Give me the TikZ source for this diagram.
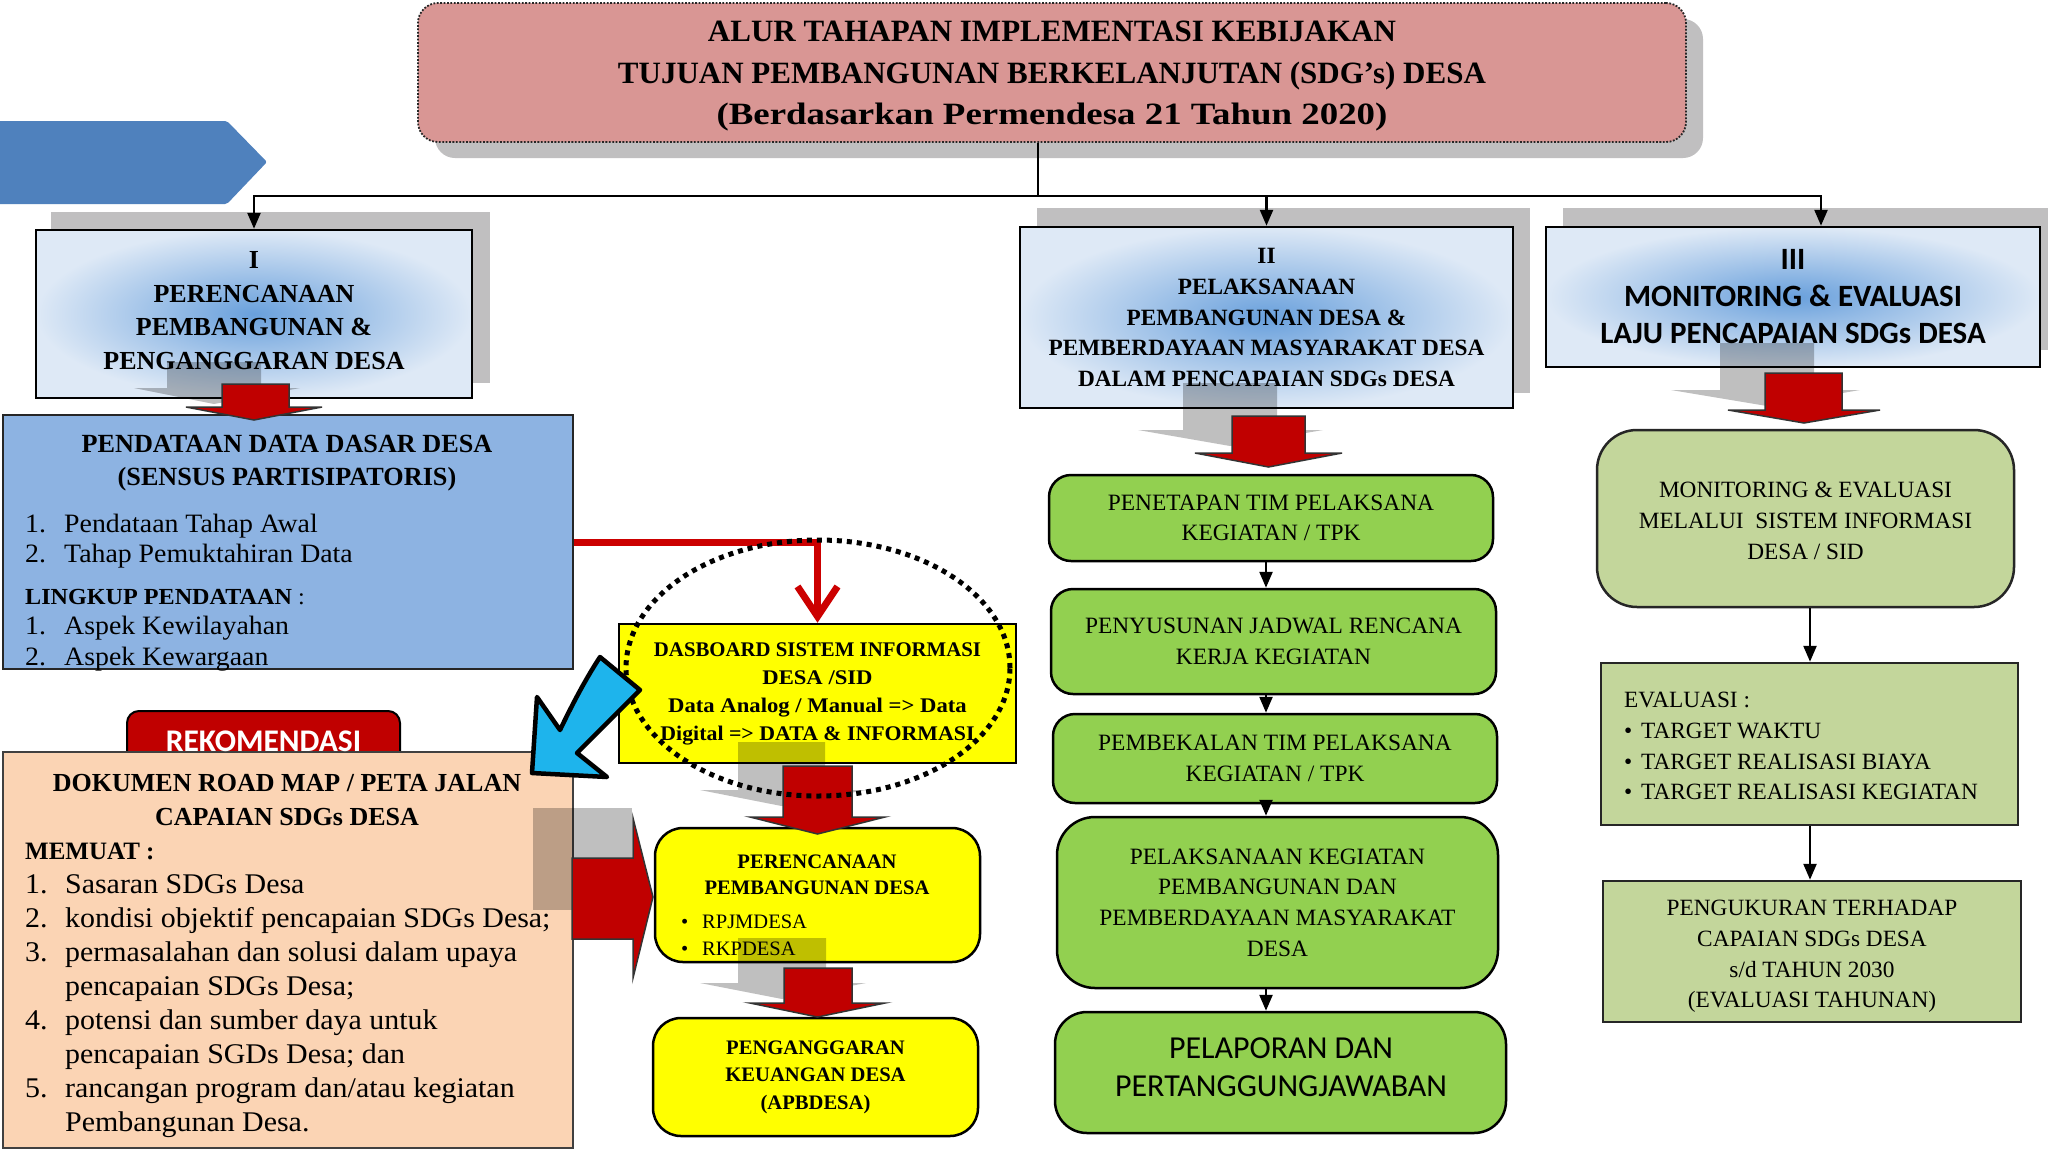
\documentclass[tikz,border=0pt]{standalone}
\usepackage{fontspec}
\setmainfont{Liberation Serif}
\newfontfamily\calfont{Carlito}
\newfontfamily\wA{Liberation Serif}[FakeStretch=1.05]
\newfontfamily\wB{Liberation Serif}[FakeStretch=1.09]
\newfontfamily\wC{Liberation Serif}[FakeStretch=1.19]
\usetikzlibrary{arrows.meta,shapes.geometric}
\definecolor{titlefill}{RGB}{217,150,148}
\definecolor{shgray}{RGB}{192,191,192}
\definecolor{chevblue}{RGB}{79,129,189}
\definecolor{hbin}{RGB}{105,160,220}
\definecolor{hbout}{RGB}{222,233,246}
\definecolor{pendblue}{RGB}{141,179,226}
\definecolor{peach}{RGB}{251,212,180}
\definecolor{arrred}{RGB}{192,0,0}
\definecolor{connred}{RGB}{204,0,0}
\definecolor{ylw}{RGB}{255,255,0}
\definecolor{grn}{RGB}{146,208,80}
\definecolor{olv}{RGB}{195,214,155}
\definecolor{cyanarr}{RGB}{30,180,236}
\newcommand\fz[2]{\fontsize{#1}{#2}\selectfont}
% gray shadow of a block arrow: sl, sr, st, sb, wl, wr
\newcommand\ashadow[6]{\fill[black,opacity=0.25] (#1,#3) -- (#2,#3) -- (#2,#4) -- (#6,#4) -- ({(#1+#2)/2},{#4+16}) -- (#5,#4) -- (#1,#4) -- cycle;}
% red block arrow down: xl, xr, ytop, yhead, hxl, hxr, ytip
\newcommand\rdown[7]{\filldraw[fill=arrred, draw=black!80, line width=1.5pt, line join=miter] (#1,#3) -- (#2,#3) -- (#2,#4) -- (#6,#4) -- ({(#5+#6)/2},#7) -- (#5,#4) -- (#1,#4) -- cycle;}
\begin{document}
\begin{tikzpicture}[x=1pt,y=-1pt,
  arr/.style={line width=2.5pt, -{Triangle[length=16pt,width=13pt]}},
  titlebox/.style={draw=black!85, line width=1.8pt, dash pattern=on 1.8pt off 1.6pt, fill=titlefill, rounded corners=20pt, inner sep=0pt},
  hbox/.style={draw=black, line width=2.5pt, inner color=hbin, outer color=hbout, align=center, inner sep=0pt},
  gbox/.style={draw=black, line width=2.5pt, fill=grn, rounded corners=22pt, align=center, inner sep=0pt, font=\fz{23.4}{30.7}},
  obox/.style={draw=black!85, line width=2.5pt, fill=olv, align=center, inner sep=0pt, font=\fz{23.3}{30.7}},
  ybox/.style={draw=black, line width=2.5pt, fill=ylw, align=center, inner sep=0pt},
  redconn/.style={draw=connred, line width=7pt, -{Straight Barb[length=30pt,width=40pt]}},
  txt/.style={inner sep=0pt, align=center}
]
\useasboundingbox (0,0) rectangle (2048,1152);
\clip (0,0) rectangle (2048,1152);
\fill[white] (0,0) rectangle (2048,1152);

% title
\fill[shgray, rounded corners=20pt] (435,19) rectangle (1703,158);
\node[titlebox, minimum width=1268pt, minimum height=139pt] (title) at (1052,72.5) {};
\node[txt, font=\fz{31}{41.5}\bfseries] (titlet) at (1052,76.5)
  {ALUR TAHAPAN IMPLEMENTASI KEBIJAKAN\\TUJUAN PEMBANGUNAN BERKELANJUTAN (SDG’s) DESA\\{\wC\bfseries (Berdasarkan Permendesa 21 Tahun 2020)}};

% blue chevron
\fill[chevblue, rounded corners=2pt] (-5,121) -- (227,121) -- (267,162) -- (227,204) -- (-5,204) -- cycle;

% box shadows
\fill[shgray] (51,212) rectangle (490,383);
\fill[shgray] (1037,208) rectangle (1530,393);
\fill[shgray] (1563,208) rectangle (2060,350);

% stage boxes
\node[hbox, minimum width=436pt, minimum height=168pt] (b1) at (254,314) {};
\node[txt, font=\fz{26}{33.7}\bfseries] (b1t) at (254,310.5)
  {I\\PERENCANAAN\\PEMBANGUNAN \&\\PENGANGGARAN DESA};
\node[hbox, minimum width=493pt, minimum height=181pt, font=\fz{23.3}{30.75}\bfseries] (b2) at (1266.5,317.5)
  {II\\PELAKSANAAN\\PEMBANGUNAN DESA \&\\PEMBERDAYAAN MASYARAKAT DESA\\DALAM PENCAPAIAN SDGs DESA};
\node[hbox, minimum width=494pt, minimum height=140pt, font=\calfont\fz{31}{37}\bfseries] (b3) at (1793,297)
  {III\\MONITORING \& EVALUASI\\LAJU PENCAPAIAN SDGs DESA};

% title connectors
\coordinate (junc) at (1038,196);
\draw[line width=2.5pt] (title.south -| junc) -- (junc);
\draw[arr] (junc) -| (b1.north);
\draw[arr] (junc) -| (b2.north);
\draw[arr] (junc) -| ([xshift=28pt]b3.north);

% pendataan box
\node[draw=black!85, line width=2.5pt, fill=pendblue, minimum width=570pt, minimum height=254pt, inner sep=0pt] (pend) at (288,542) {};
\node[txt, font=\fz{26.2}{33}\bfseries] (pendh) at (287,463) {PENDATAAN DATA DASAR DESA\\(SENSUS PARTISIPATORIS)};
\node[inner sep=0pt, anchor=north west, font=\wA\fz{26.5}{30.5}] (pendl) at (25,510.5)
  {\begin{tabular}{@{}p{39pt}@{}l@{}}1.&Pendataan Tahap Awal\\2.&Tahap Pemuktahiran Data\\[11pt]
   \multicolumn{2}{@{}l@{}}{\fz{23}{30.5}\bfseries LINGKUP PENDATAAN \mdseries:}\\
   1.&Aspek Kewilayahan\\2.&Aspek Kewargaan\end{tabular}};

% dashboard box
\node[ybox, minimum width=397pt, minimum height=139pt, font=\fz{20.8}{28}\bfseries] (dash) at (817.5,693.5)
  {DASBOARD SISTEM INFORMASI\\{\wB\bfseries DESA /SID}\\{\wB\bfseries Data Analog / Manual => Data}\\{\wA\bfseries Digital => DATA \& INFORMASI}};
\draw[redconn] (pend.east) -| (dash.north);

% perencanaan + penganggaran
\node[ybox, rounded corners=28pt, minimum width=325pt, minimum height=134pt] (perc) at (817.5,895) {};
\node[txt, font=\fz{20.6}{26}\bfseries] (perch) at (817,875) {PERENCANAAN\\PEMBANGUNAN DESA};
\node[inner sep=0pt, anchor=north west, font=\fz{20.5}{27}] (percl) at (681,909)
  {\begin{tabular}{@{}p{21pt}@{}l@{}}•&RPJMDESA\\•&RKPDESA\end{tabular}};
\node[ybox, rounded corners=28pt, minimum width=325pt, minimum height=118pt, font=\fz{20.6}{27.5}\bfseries] (pang) at (815.5,1077)
  {PENGANGGARAN\\KEUANGAN DESA\\(APBDESA)};

% rekomendasi + road map
\node[draw=black, line width=2pt, fill=arrred, rounded corners=12pt, minimum width=273pt, minimum height=68pt, inner sep=0pt] (tab) at (263.5,745) {};
\node[draw=black!75, line width=2.5pt, fill=peach, minimum width=570pt, minimum height=396pt, inner sep=0pt] (road) at (288,950) {};
\node[txt, text=white, font=\calfont\fz{31.5}{34}\bfseries] (tabt) at (263.5,741) {REKOMENDASI};
\node[txt, font=\fz{26}{34}\bfseries] (roadh) at (287,800) {DOKUMEN ROAD MAP / PETA JALAN\\CAPAIAN SDGs DESA};
\node[inner sep=0pt, anchor=north west, font=\wA\fz{28.5}{34}] (roadl) at (25,835)
  {\begin{tabular}{@{}p{40pt}@{}l@{}}\multicolumn{2}{@{}l@{}}{\rmfamily\fz{25}{34}\bfseries MEMUAT :}\\
   1.&Sasaran SDGs Desa\\2.&kondisi objektif pencapaian SDGs Desa;\\3.&permasalahan dan solusi dalam upaya\\
   &pencapaian SDGs Desa;\\4.&potensi dan sumber daya untuk\\&pencapaian SGDs Desa; dan\\
   5.&rancangan program dan/atau kegiatan\\&Pembangunan Desa.\end{tabular}};

% green column
\node[gbox, minimum width=444pt, minimum height=86pt] (ga) at (1271,518) {PENETAPAN TIM PELAKSANA\\KEGIATAN / TPK};
\node[gbox, minimum width=445pt, minimum height=105pt] (gb) at (1273.5,641.5) {PENYUSUNAN JADWAL RENCANA\\KERJA KEGIATAN};
\node[gbox, minimum width=444pt, minimum height=89pt] (gc) at (1275,758.5) {PEMBEKALAN TIM PELAKSANA\\KEGIATAN / TPK};
\node[gbox, rounded corners=38pt, minimum width=441pt, minimum height=171pt] (gd) at (1277.5,902.5) {PELAKSANAAN KEGIATAN\\PEMBANGUNAN DAN\\PEMBERDAYAAN MASYARAKAT\\DESA};
\node[gbox, rounded corners=32pt, minimum width=451pt, minimum height=121pt] (ge) at (1280.5,1072.5) {};
\node[txt, font=\calfont\fz{32}{38}] (get) at (1281,1067) {PELAPORAN DAN\\PERTANGGUNGJAWABAN};
\coordinate (gx) at (1266,0);
\draw[arr] (ga.south -| gx) -- (gb.north -| gx);
\draw[arr] (gb.south -| gx) -- (gc.north -| gx);
\draw[arr] (gc.south -| gx) -- (gd.north -| gx);
\draw[arr] (gd.south -| gx) -- (ge.north -| gx);

% olive column
\node[obox, rounded corners=40pt, minimum width=417pt, minimum height=177pt] (oa) at (1805.5,518.5) {};
\node[txt, font=\fz{23.3}{30.7}] (oat) at (1805.5,521) {MONITORING \& EVALUASI\\MELALUI\ \ SISTEM INFORMASI\\DESA / SID};
\node[obox, minimum width=417pt, minimum height=162pt] (ob) at (1809.5,744) {};
\node[inner sep=0pt, anchor=north west, font=\fz{23.3}{30.7}] (obl) at (1624,686)
  {\begin{tabular}{@{}p{17pt}@{}l@{}}\multicolumn{2}{@{}l@{}}{EVALUASI :}\\•&TARGET WAKTU\\•&TARGET REALISASI BIAYA\\•&TARGET REALISASI KEGIATAN\end{tabular}};
\node[obox, minimum width=418pt, minimum height=141pt] (oc) at (1812,951.5) {};
\node[txt, font=\fz{23.3}{30.7}] (oct) at (1812,956.5) {PENGUKURAN TERHADAP\\CAPAIAN SDGs DESA\\s/d TAHUN 2030\\(EVALUASI TAHUNAN)};
\coordinate (ox) at (1810,0);
\draw[arr] (oa.south -| ox) -- (ob.north -| ox);
\draw[arr] (ob.south -| ox) -- (oc.north -| ox);

% gray shadows of block arrows
\ashadow{167}{261}{362}{388}{134}{300}
\ashadow{1183}{1277}{383}{430}{1138}{1323}
\ashadow{1720}{1814}{343}{390}{1671}{1860}
\ashadow{738}{825}{742}{790}{700}{866}
\ashadow{738}{826}{938}{983}{700}{866}
\fill[black,opacity=0.25] (533,808) rectangle (632,910);

% red block arrows
\rdown{222}{289}{384}{407}{186}{322}{420}
\rdown{1232}{1305}{416}{453}{1195}{1342}{467}
\rdown{1765}{1842}{373}{410}{1728}{1880}{423}
\rdown{783}{852}{766}{817}{750}{885}{834}
\rdown{784}{852}{968}{1003}{750}{885}{1017}
\filldraw[fill=arrred, draw=black!80, line width=1.5pt] (572,858) -- (633,858) -- (633,818) -- (653,897) -- (633,978) -- (633,939) -- (572,939) -- cycle;

% dotted ellipse
\node[ellipse, draw=black, line width=5pt, dash pattern=on 5pt off 5pt, minimum width=384pt, minimum height=256pt, inner sep=0pt] (ell) at (818,668) {};

% cyan curved arrow
\filldraw[fill=cyanarr, draw=black, line width=4.5pt, line join=round]
  (600,657) .. controls (585,680) and (572,705) .. (560,730) -- (537,697) -- (532,773) -- (607,777) -- (577,753)
  .. controls (600,730) and (620,710) .. (640,690) -- cycle;
\end{tikzpicture}
\end{document}
